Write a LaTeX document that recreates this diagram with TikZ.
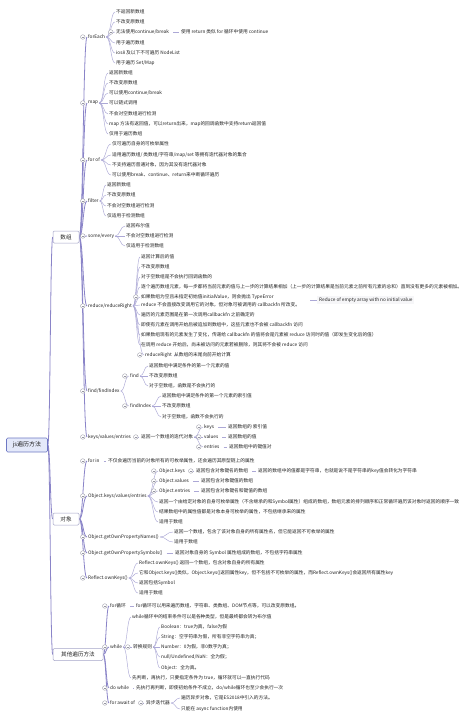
\documentclass[tikz,border=0pt]{standalone}
\usepackage{fontspec}
\setmainfont{Noto Sans CJK SC}
\usetikzlibrary{calc,backgrounds}
\pgfdeclarelayer{bottom}
\pgfsetlayers{bottom,background,main}
\definecolor{lineM}{RGB}{138,132,200}
\definecolor{lineC}{RGB}{172,168,214}
\definecolor{mkgray}{RGB}{150,150,162}
\definecolor{rootfill}{RGB}{228,233,250}
\definecolor{rootdraw}{RGB}{110,120,196}
\definecolor{boxdraw}{RGB}{165,165,200}
\definecolor{txt}{RGB}{35,35,35}
\definecolor{notefill}{RGB}{246,246,248}
\newcommand\fsm{\fontsize{4.72pt}{5.6pt}\selectfont}
\tikzset{
 t/.style={anchor=west, inner xsep=1pt, inner ysep=0.6pt, font=\fsm, text=txt},
 con/.style={draw=lineC, line width=0.45pt},
 mainc/.style={draw=lineM, line width=0.8pt},
 lvbox/.style={draw=boxdraw, fill=white, rounded corners=1.2pt, line width=0.5pt,
   font=\fontsize{5.6pt}{6.5pt}\selectfont, text=txt, inner sep=0pt, minimum height=12pt},
 rootbox/.style={draw=rootdraw, fill=rootfill, rounded corners=1.2pt, line width=0.6pt,
   font=\fontsize{6pt}{7pt}\selectfont, text=txt, inner sep=0pt, minimum height=14pt, minimum width=41pt},
 mk/.style={circle, draw=mkgray, fill=white, line width=0.35pt, minimum size=4.6pt, inner sep=0pt,
   path picture={\draw[mkgray,line width=0.35pt] ([xshift=-1.3pt]path picture bounding box.center) -- ([xshift=1.3pt]path picture bounding box.center);}},
}
\newcommand\brc[3][con]{\draw[#1] (#2.east) .. controls ($(#2.east)!0.5!(#2.east -| #3.west)$) and ($(#3.west)!0.5!(#3.west -| #2.east)$) .. (#3.west);}
\newcommand\lnk[2]{\draw[con, shorten <=3pt, shorten >=1.5pt] (#1.east) -- (#2.west);}
\newcommand\mkat[1]{\node[mk] at ([xshift=-4.2pt]#1.west) {};}
\begin{document}
\begin{tikzpicture}[x=1pt,y=-1pt]
\begin{pgfonlayer}{bottom}
\fill[white] (0,0) rectangle (474,720);
\end{pgfonlayer}
\useasboundingbox (0,0) rectangle (474,720);
% root and level 1
\node[rootbox] (root) at (27,445) {js遍历方法};
\node[lvbox, minimum width=26pt] (arr) at (66,237) {数组};
\node[lvbox, minimum width=26pt] (obj) at (66,519) {对象};
\node[lvbox, minimum width=50pt] (oth) at (78,654.5) {其他遍历方法};
% ===== array =====
\node[t] (fe) at (87,37) {forEach};
\node[t] (mp) at (87,103) {map};
\node[t] (fo) at (87,160) {for of};
\node[t] (fi) at (87,201) {filter};
\node[t] (se) at (87,236) {some/every};
\node[t] (rd) at (87,306) {reduce/reduceRight};
\node[t] (ff) at (87,391) {find/findIndex};
\node[t] (kv) at (87,437) {keys/values/entries};
% forEach
\node[t] (fe1) at (115,12) {不返回新数组};
\node[t] (fe2) at (115,22) {不改变原数组};
\node[t] (fe3) at (115,32) {无法使用continue/break};
\node[t] (fe3a) at (180,32) {使用 return 类似 for 循环中使用 continue};
\node[t] (fe4) at (115,43) {用于遍历数组};
\node[t] (fe5) at (115,53) {ios8 及以下不可遍历 NodeList};
\node[t] (fe6) at (115,63) {用于遍历 Set/Map};
% map
\node[t] (mp1) at (108,73) {返回新数组};
\node[t] (mp2) at (108,83) {不改变原数组};
\node[t] (mp3) at (108,93) {可以使用continue/break};
\node[t] (mp4) at (108,103) {可以链式调用};
\node[t] (mp5) at (108,114) {不会对空数组进行检测};
\node[t] (mp6) at (108,124) {map 方法有返回值，可以return出来，map的回调函数中支持return返回值};
\node[t] (mp7) at (108,134) {仅用于遍历数组};
% for of
\node[t] (fo1) at (111,144) {仅可遍历自身的可枚举属性};
\node[t] (fo2) at (111,155) {适用遍历数组/ 类数组/字符串/map/set 等拥有迭代器对象的集合};
\node[t] (fo3) at (111,165) {不支持遍历普通对象，因为其没有迭代器对象};
\node[t] (fo4) at (111,175) {可以使用break、continue、return来中断循环遍历};
% filter
\node[t] (fi1) at (106,185) {返回新数组};
\node[t] (fi2) at (106,195) {不改变原数组};
\node[t] (fi3) at (106,206) {不会对空数组进行检测};
\node[t] (fi4) at (106,216) {仅适用于检测数组};
% some/every
\node[t] (se1) at (125,226) {返回布尔值};
\node[t] (se2) at (125,236) {不会对空数组进行检测};
\node[t] (se3) at (125,246) {仅适用于检测数组};
% reduce
\node[t] (rd1) at (140,257) {返回计算后的值};
\node[t] (rd2) at (140,267) {不改变原数组};
\node[t] (rd3) at (140,277) {对于空数组是不会执行回调函数的};
\node[t] (rd4) at (140,287) {逐个遍历数组元素，每一步都将当前元素的值与上一步的计算结果相加（上一步的计算结果是当前元素之前所有元素的总和）直到没有更多的元素被相加。};
\node[t] (rd5) at (140,297) {如果数组为空且未指定初始值initialValue，则会抛出 TypeError};
\node[t, fill=notefill, inner xsep=2pt, inner ysep=1.6pt] (rd5a) at (317,300) {Reduce of empty array with no initial value};
\coordinate (rd5x) at (310,300);
\node[t] (rd6) at (140,305) {reduce 不会直接改变调用它的对象，但对象可被调用的 callbackfn 所改变。};
\node[t] (rd7) at (140,315) {遍历的元素范围是在第一次调用callbackfn 之前确定的};
\node[t] (rd8) at (140,325) {即使有元素在调用开始后被追加到数组中，这些元素也不会被 callbackfn 访问};
\node[t] (rd9) at (140,335) {如果数组现有的元素发生了变化，传递给 callbackfn 的值将会是元素被 reduce 访问时的值（即发生变化后的值）};
\node[t] (rd10) at (140,345) {在调用 reduce 开始后，尚未被访问的元素若被删除，则其将不会被 reduce 访问};
\node[t] (rd11) at (144,355) {reduceRight};
\node[t] (rd11a) at (173,355) {从数组的末尾向前开始计算};
% find
\node[t] (ffa) at (129,376) {find};
\node[t] (ffb) at (129,406) {findIndex};
\node[t] (ffa1) at (148,366) {返回数组中满足条件的第一个元素的值};
\node[t] (ffa2) at (148,376) {不改变原数组};
\node[t] (ffa3) at (148,386) {对于空数组，函数是不会执行的};
\node[t] (ffb1) at (161,396) {返回数组中满足条件的第一个元素的索引值};
\node[t] (ffb2) at (161,406) {不改变原数组};
\node[t] (ffb3) at (161,417) {对于空数组，函数不会执行的};
% keys
\node[t] (kva) at (140,437) {返回一个数组的迭代对象};
\node[t] (kvk) at (203,427) {keys};
\node[t] (kvv) at (203,437) {values};
\node[t] (kve) at (203,447) {entries};
\node[t] (kvk1) at (227,427) {返回数组的 索引值};
\node[t] (kvv1) at (227,437) {返回数组的值};
\node[t] (kve1) at (228,447) {返回数组中的键值对};
% ===== object =====
\node[t] (oin) at (87,461) {for in};
\node[t] (oin1) at (107,461) {不仅会遍历当前的对象所有的可枚举属性，还会遍历其原型链上的属性};
\node[t] (okv) at (87,496) {Object.keys/values/entries};
\node[t] (ok1) at (158,471) {Object.keys};
\node[t] (ok1a) at (195,471) {返回包含对象键名的数组};
\node[t] (ok1b) at (257,471) {返回的数组中的值都是字符串，也就是说不是字符串的key值会转化为字符串};
\node[t] (ok2) at (158,481) {Object.values};
\node[t] (ok2a) at (200,481) {返回包含对象键值的数组};
\node[t] (ok3) at (158,491) {Object.entries};
\node[t] (ok3a) at (200,491) {返回包含对象键名和键值的数组};
\node[t] (ok4) at (158,502) {返回一个由给定对象的自身可枚举属性（不含继承的和Symbol属性）组成的数组，数组元素的排列顺序和正常循环遍历该对象时返回的顺序一致};
\node[t] (ok5) at (158,512) {结果数组中的属性值都是对象本身可枚举的属性，不包括继承来的属性};
\node[t] (ok6) at (158,522) {适用于数组};
\node[t] (opn) at (87,537) {Object.getOwnPropertyNames()};
\node[t] (opn1) at (173,532) {返回一个数组，包含了该对象自身的所有属性名，但它能返回不可枚举的属性};
\node[t] (opn2) at (173,542) {适用于数组};
\node[t] (ops) at (87,553) {Object.getOwnPropertySymbols()};
\node[t] (ops1) at (174,553) {返回对象自身的 Symbol 属性组成的数组，不包括字符串属性};
\node[t] (rok) at (87,578) {Reflect.ownKeys()};
\node[t] (rok1) at (138,563) {Reflect.ownKeys() 返回一个数组，包含对象自身的所有属性};
\node[t] (rok2) at (138,573) {它和Object.keys()类似，Object.keys()返回属性key，但不包括不可枚举的属性，而Reflect.ownKeys()会返回所有属性key};
\node[t] (rok3) at (138,583) {返回包括Symbol};
\node[t] (rok4) at (138,593) {适用于数组};
% ===== other =====
\node[t] (ofl) at (109,606) {for循环};
\node[t] (ofl1) at (135,606) {for循环可以用来遍历数组、字符串、类数组、DOM节点等，可以改变原数组。};
\node[t] (owh) at (109,647) {while};
\node[t] (owh1) at (131,617) {while循环中的结束条件可以是各种类型，但是最终都会转为布尔值};
\node[t] (owh2) at (132,647) {转换规则};
\node[t] (owh2a) at (160,627) {Boolean：true为真，false为假};
\node[t] (owh2b) at (160,637) {String：空字符串为假，所有非空字符串为真；};
\node[t] (owh2c) at (160,647) {Number：0为假，非0数字为真；};
\node[t] (owh2d) at (160,657) {null/Undefined/NaN：全为假；};
\node[t] (owh2e) at (160,668) {Object：全为真。};
\node[t] (owh3) at (131,678) {先判断，再执行，只要指定条件为 true，循环就可以一直执行代码};
\node[t] (odw) at (109,688) {do while};
\node[t] (odw1) at (135,688) {先执行再判断，即使初始条件不成立，do/while循环也至少会执行一次};
\node[t] (ofa) at (109,703) {for await of};
\node[t] (ofa1) at (145,703) {异步迭代器};
\node[t] (ofa1a) at (180,698) {遍历异步对象，它是ES2018中引入的方法。};
\node[t] (ofa1b) at (180,709) {只能在 async function内使用};

\begin{scope}[on background layer]
% root
\brc[mainc]{root}{arr}
\brc[mainc]{root}{obj}
\brc[mainc]{root}{oth}
\foreach \c in {fe,mp,fo,fi,se,rd,ff,kv}{\brc[mainc]{arr}{\c}}
\foreach \c in {oin,okv,opn,ops,rok}{\brc[mainc]{obj}{\c}}
\foreach \c in {ofl,owh,odw,ofa}{\brc[mainc]{oth}{\c}}
\foreach \c in {fe1,fe2,fe3,fe4,fe5,fe6}{\brc{fe}{\c}}
\lnk{fe3}{fe3a}
\foreach \c in {mp1,mp2,mp3,mp4,mp5,mp6,mp7}{\brc{mp}{\c}}
\foreach \c in {fo1,fo2,fo3,fo4}{\brc{fo}{\c}}
\foreach \c in {fi1,fi2,fi3,fi4}{\brc{fi}{\c}}
\foreach \c in {se1,se2,se3}{\brc{se}{\c}}
\foreach \c in {rd1,rd2,rd3,rd4,rd5,rd6,rd7,rd8,rd9,rd10,rd11}{\brc{rd}{\c}}
\draw[con] (rd5x) -- (rd5a.west);
\lnk{rd11}{rd11a}
\brc{ff}{ffa}
\brc{ff}{ffb}
\foreach \c in {ffa1,ffa2,ffa3}{\brc{ffa}{\c}}
\foreach \c in {ffb1,ffb2,ffb3}{\brc{ffb}{\c}}
\lnk{kv}{kva}
\foreach \c in {kvk,kvv,kve}{\brc{kva}{\c}}
\lnk{kvk}{kvk1}
\lnk{kvv}{kvv1}
\lnk{kve}{kve1}
\lnk{oin}{oin1}
\foreach \c in {ok1,ok2,ok3,ok4,ok5,ok6}{\brc{okv}{\c}}
\lnk{ok1}{ok1a}
\lnk{ok1a}{ok1b}
\lnk{ok2}{ok2a}
\lnk{ok3}{ok3a}
\brc{opn}{opn1}
\brc{opn}{opn2}
\lnk{ops}{ops1}
\foreach \c in {rok1,rok2,rok3,rok4}{\brc{rok}{\c}}
\lnk{ofl}{ofl1}
\foreach \c in {owh1,owh2,owh3}{\brc{owh}{\c}}
\foreach \c in {owh2a,owh2b,owh2c,owh2d,owh2e}{\brc{owh2}{\c}}
\lnk{odw}{odw1}
\lnk{ofa}{ofa1}
\brc{ofa1}{ofa1a}
\brc{ofa1}{ofa1b}
\end{scope}
% collapse markers
\foreach \c in {fe,mp,fo,fi,se,rd,ff,kv,fe3,rd5,rd11,ffa,ffb,kva,kvk,kvv,kve,
  oin,okv,ok1,ok1a,ok2,ok3,opn,ops,rok,ofl,owh,owh2,odw,ofa,ofa1}{\mkat{\c}}
\end{tikzpicture}
\end{document}
